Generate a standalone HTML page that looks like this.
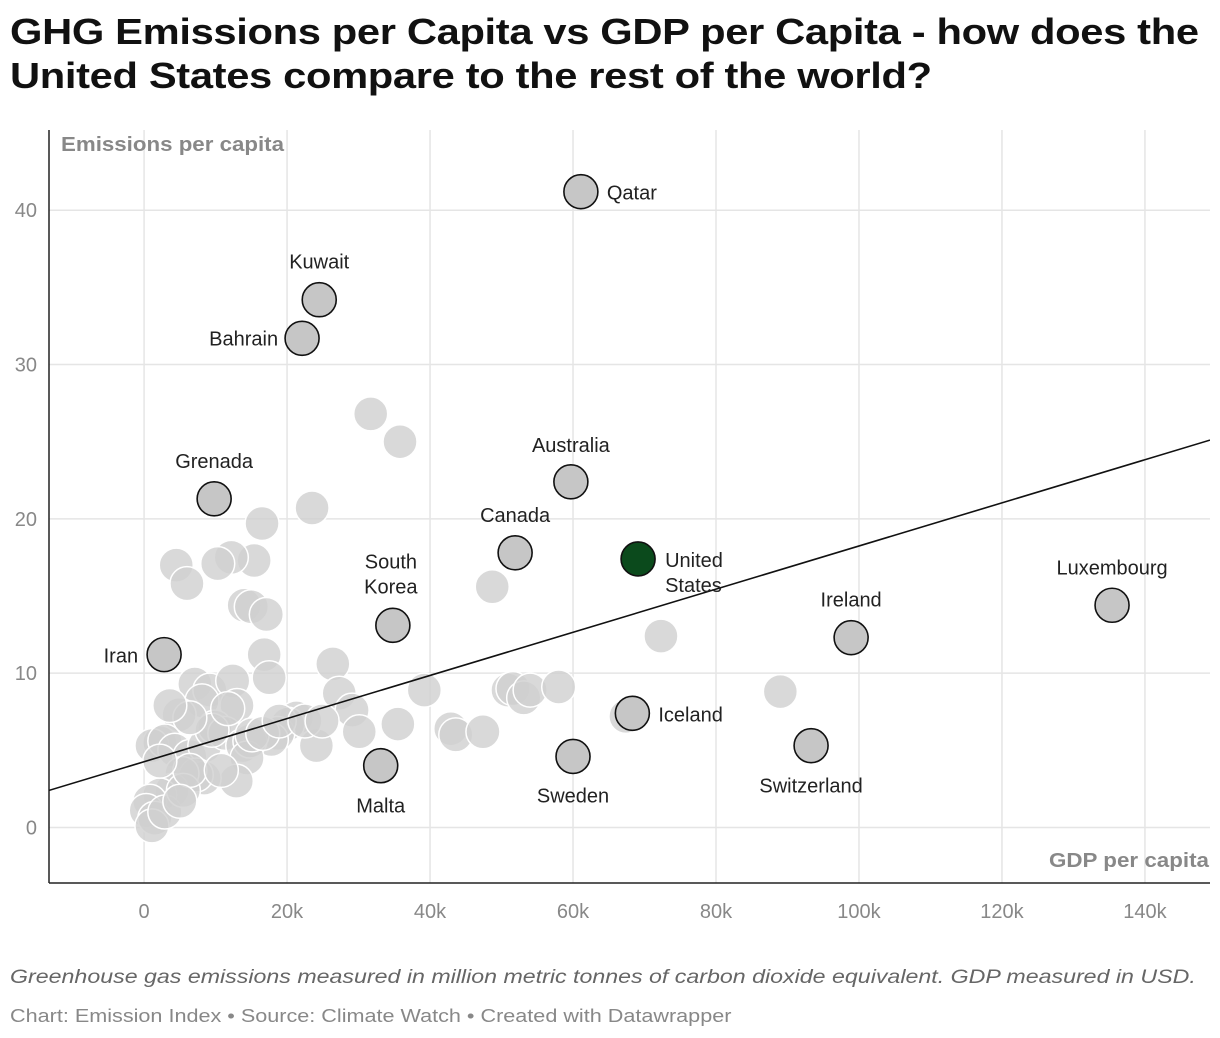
<!DOCTYPE html>
<html><head><meta charset="utf-8"><style>
body{margin:0;background:#fff;width:1220px;height:1038px;overflow:hidden;font-family:"Liberation Sans",sans-serif}
h1{position:absolute;left:10px;top:10px;margin:0;font-size:36px;line-height:44px;font-weight:bold;color:#111;letter-spacing:-0.3px;transform:scaleX(1.158);transform-origin:0 0;white-space:nowrap}
.note{position:absolute;left:10px;top:967px;font-size:19px;font-style:italic;color:#666;transform:scaleX(1.22);transform-origin:0 0;white-space:nowrap}
.cred{position:absolute;left:10px;top:1006px;font-size:18px;color:#888;transform:scaleX(1.2);transform-origin:0 0;white-space:nowrap}
</style></head><body>
<h1>GHG Emissions per Capita vs GDP per Capita - how does the<br>United States compare to the rest of the world?</h1>
<svg id="chart" width="1220" height="1038" style="position:absolute;left:0;top:0"></svg>
<div class="note">Greenhouse gas emissions measured in million metric tonnes of carbon dioxide equivalent. GDP measured in USD.</div>
<div class="cred">Chart: Emission Index • Source: Climate Watch • Created with Datawrapper</div>
<script>
const xTicks=[0,20,40,60,80,100,120,140];
const xTickLabels=["0","20k","40k","60k","80k","100k","120k","140k"];
const yTicks=[0,10,20,30,40];
const bgGdp=[31.7,35.8,23.5,16.5,15.4,12.2,10.3,4.5,6.0,14.0,15.0,17.1,16.8,17.5,26.4,27.3,29.1,30.1,24.1,21.3,20.1,18.7,17.8,39.2,42.9,43.6,47.4,48.7,35.5,50.9,51.6,53.1,54.0,58.0,72.3,89.0,67.4,7.1,9.2,12.4,13.0,8.1,4.9,2.2,1.1,2.9,4.3,6.4,8.5,9.9,11.3,13.8,14.8,14.4,12.9,8.4,7.3,5.3,3.9,2.2,0.8,0.3,1.5,1.1,2.9,5.5,6.4,9.5,11.7,6.4,10.8,15.1,16.6,18.9,22.5,24.9,3.6,2.2,5.0];
const bgEm=[26.8,25.0,20.7,19.7,17.3,17.5,17.1,17.0,15.8,14.4,14.3,13.8,11.2,9.7,10.6,8.7,7.6,6.2,5.3,7.1,6.7,6.1,5.7,8.9,6.4,6.0,6.2,15.6,6.7,8.9,9.0,8.4,8.9,9.1,12.4,8.8,7.2,9.3,8.9,9.5,7.9,8.2,7.3,5.5,5.3,5.6,5.0,4.6,5.3,6.5,6.1,5.3,5.6,4.5,3.0,3.2,3.4,3.5,2.4,2.1,1.7,1.1,0.6,0.1,1.0,2.4,3.7,6.3,7.7,7.1,3.7,6.0,6.1,6.9,6.9,6.9,7.9,4.3,1.7];
const countries=["Qatar","Kuwait","Bahrain","Grenada","Australia","Canada","United States","South Korea","Iran","Luxembourg","Ireland","Iceland","Switzerland","Sweden","Malta"];
const cGdp=[61.1,24.5,22.1,9.8,59.7,51.9,69.1,34.8,2.8,135.4,98.9,68.3,93.3,60.0,33.1];
const cEm=[41.2,34.2,31.7,21.3,22.4,17.8,17.4,13.1,11.2,14.4,12.3,7.4,5.3,4.6,4.0];
const trendIntercept=4.26, trendSlope=0.1398;
const place={"Qatar":[26,8,"start"],"Kuwait":[0,-31,"middle"],"Bahrain":[-24,7,"end"],"Grenada":[0,-31,"middle"],"Australia":[0,-30,"middle"],"Canada":[0,-31,"middle"],"United States":[27,8,"start"],"South Korea":[-2,-57,"middle"],"Iran":[-26,8,"end"],"Luxembourg":[0,-31,"middle"],"Ireland":[0,-31,"middle"],"Iceland":[26,8,"start"],"Switzerland":[0,47,"middle"],"Sweden":[0,46,"middle"],"Malta":[0,47,"middle"]};
const X0=-13.3,X1=149.1,Y0=-3.6,Y1=45.2,L=49,R=1210,T=130,B=883;
const sx=v=>L+(v-X0)/(X1-X0)*(R-L), sy=v=>B-(v-Y0)/(Y1-Y0)*(B-T);
const svg=document.getElementById('chart'),NS="http://www.w3.org/2000/svg";
function mk(t,a,p){const e=document.createElementNS(NS,t);for(const k in a)e.setAttribute(k,a[k]);(p||svg).appendChild(e);return e;}
xTicks.forEach((v,i)=>{
 const g=mk('line',{x1:sx(v),x2:sx(v),y1:T,y2:B,stroke:'#e5e5e5','stroke-width':1.5});
 
 
 const t=mk('text',{x:sx(v),y:918,'text-anchor':'middle','font-size':20,fill:'#888'});t.textContent=xTickLabels[i];
 
 
});
yTicks.forEach(v=>{
 const g=mk('line',{x1:L,x2:R,y1:sy(v),y2:sy(v),stroke:'#e5e5e5','stroke-width':1.5});
 
 
 const t=mk('text',{x:37,y:sy(v)+7,'text-anchor':'end','font-size':20,fill:'#888'});t.textContent=v;
 
 
});
let a=mk('line',{x1:L,x2:L,y1:T,y2:B,stroke:'#222','stroke-width':1.5});


a=mk('line',{x1:L,x2:R,y1:B,y2:B,stroke:'#222','stroke-width':1.5});


let yt=mk('text',{x:61,y:151,'font-size':20,'font-weight':'bold',fill:'#888',textLength:223,lengthAdjust:'spacingAndGlyphs'});yt.textContent='Emissions per capita';


let xt=mk('text',{x:1049,y:867,'font-size':20,'font-weight':'bold',fill:'#888',textLength:160,lengthAdjust:'spacingAndGlyphs'});xt.textContent='GDP per capita';


const cp=mk('clipPath',{id:'cp'});mk('rect',{x:L,y:T,width:R-L,height:B-T},cp);
const pg=mk('g',{'clip-path':'url(#cp)'});
bgGdp.forEach((v,i)=>{
 const c=mk('circle',{cx:sx(v),cy:sy(bgEm[i]),r:17,fill:'#cfcfcf','fill-opacity':0.8,stroke:'#fff','stroke-width':1.5},pg);
 
 
});
const tl=mk('line',{x1:sx(X0),y1:sy(trendIntercept+trendSlope*X0),x2:sx(X1),y2:sy(trendIntercept+trendSlope*X1),stroke:'#111','stroke-width':1.6},pg);


countries.forEach((n,i)=>{
 const cx=sx(cGdp[i]),cy=sy(cEm[i]),us=n==="United States";
 const c=mk('circle',{cx,cy,r:17,fill:us?'#0b4a1c':'#c6c6c6',stroke:'#111','stroke-width':1.6},pg);
 
 
 const p=place[n];
 const lines=(n==="United States"||n==="South Korea")?n.split(' '):[n];
 const t=mk('text',{x:cx+p[0],y:cy+p[1],'text-anchor':p[2],'font-size':20,fill:'#222'});
 lines.forEach((s,j)=>{const ts=mk('tspan',{x:cx+p[0],dy:j?25:0},t);ts.textContent=s;});
 
 
});
</script>
</body></html>
